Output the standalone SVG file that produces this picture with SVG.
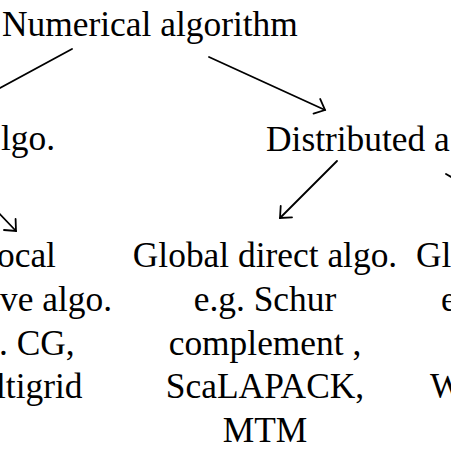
<svg xmlns="http://www.w3.org/2000/svg" width="451" height="451" viewBox="0 0 451 451">
  <style>
    text { font-family: 'Liberation Serif', 'Times New Roman', serif; font-size: 35.4px; fill: #000; }
    .c { text-anchor: middle; }
    .e { fill: none; stroke: #000; stroke-width: 1.8; stroke-linecap: round; }
  </style>
  <defs>
    <marker id="ah" markerUnits="userSpaceOnUse" markerWidth="20" markerHeight="20" refX="0" refY="0" viewBox="-14 -10 16 20" orient="auto" overflow="visible">
      <path d="M -9,-8 L 0,0 L -9,8" fill="none" stroke="#000" stroke-width="1.8" stroke-linecap="round" stroke-linejoin="miter"/>
    </marker>
  </defs>
  <rect width="451" height="451" fill="#fff"/>
  <g id="connectors">
    <line class="e" x1="72" y1="49" x2="-2" y2="89"/>
    <line class="e" x1="209" y1="57" x2="325" y2="110" marker-end="url(#ah)"/>
    <line class="e" x1="337" y1="161" x2="280" y2="218" marker-end="url(#ah)"/>
    <line class="e" x1="-4" y1="210" x2="16" y2="231" marker-end="url(#ah)"/>
    <line class="e" x1="446" y1="174" x2="453" y2="178"/>
  </g>
  <g id="n-root">
    <text x="2" y="36">Numerical algorithm</text>
  </g>
  <g id="n-left">
    <text x="1" y="150">lgo.</text>
  </g>
  <g id="n-distributed">
    <text x="266" y="151">Distributed a</text>
  </g>
  <g id="n-local">
    <text x="-3" y="267">ocal</text>
    <text x="0" y="311">ve algo.</text>
    <text x="-1" y="355">. CG,</text>
    <text x="-4" y="398">ltigrid</text>
  </g>
  <g id="n-global-direct">
    <text class="c" x="265" y="267">Global direct algo.</text>
    <text class="c" x="265" y="311">e.g. Schur</text>
    <text class="c" x="265" y="355">complement ,</text>
    <text class="c" x="265" y="398">ScaLAPACK,</text>
    <text class="c" x="265" y="442">MTM</text>
  </g>
  <g id="n-global-right">
    <text x="416" y="267">Gl</text>
    <text x="441" y="311">e</text>
    <text x="430" y="398">W</text>
  </g>
</svg>
